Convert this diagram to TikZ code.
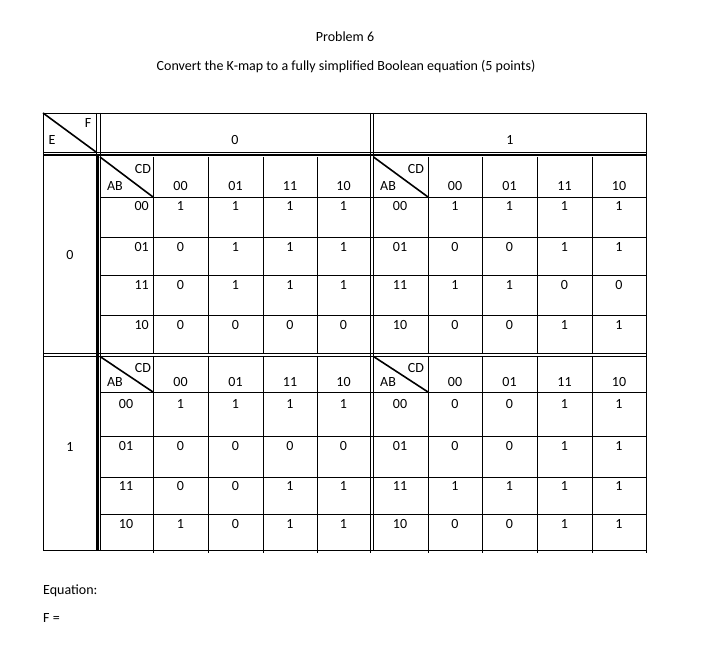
\documentclass[tikz,border=0pt]{standalone}
\usepackage{fontspec}
\setmainfont{Carlito}
\begin{document}
\begin{tikzpicture}[x=1pt,y=-1pt,font=\fontsize{14}{16}\selectfont,
  thin line/.style={line width=0.8pt},
  thick line/.style={line width=2pt},
  lbl/.style={inner sep=0pt}]
\useasboundingbox (0,0) rectangle (720,668);
\node[lbl] (title) at (345,37) {Problem 6};
\node[lbl] (sub) at (346,67) {Convert the K-map to a fully simplified Boolean equation (5 points)};
\node[lbl,anchor=west] (eq) at (43,591) {Equation:};
\node[lbl,anchor=west] (feq) at (43,618) {F =};
% outer frame
\draw[thin line] (43,113) rectangle (646,550);
\draw[thin line] (96,113) -- (96,550);
\draw[thin line] (100,113) -- (100,550);
\draw[thick line] (97.5,154) -- (97.5,550);
\draw[thin line] (370,113) -- (370,550);
\draw[thin line] (373.5,113) -- (373.5,550);
\draw[thin line] (43,152) -- (646,152);
\draw[thick line] (43,155) -- (646,155);
\draw[thin line] (43,353) -- (646,353);
\draw[thin line] (43,356.5) -- (646,356.5);
\draw[line width=1.6pt] (43,113) -- (96,152);
\node[lbl] (F) at (88,123) {F};
\node[lbl] (E) at (52,140) {E};
\node[lbl] (f0) at (235,140) {0};
\node[lbl] (f1) at (510,140) {1};
\node[lbl] (e0) at (70,255) {0};
\node[lbl] (e1) at (70,447) {1};
% submaps
\foreach \ox/\cols in {100/{153,208,263,317,370}, 373.5/{428,482,537,592,646}}{
  \foreach \oy/\rows in {157/{197,237,275,315,353}, 356.5/{392,436,477,514,550}}{
    \foreach \c in \cols {\draw[thin line] (\c,\oy) -- (\c,{\oy+196});}
    \foreach \r in \rows {\draw[thin line] (\ox,\r) -- (646,\r);}
  }
}
\draw[line width=1.6pt] (100,157) -- (153,197);
\draw[line width=1.6pt] (373.5,157) -- (428,197);
\draw[line width=1.6pt] (100,356.5) -- (153,392);
\draw[line width=1.6pt] (373.5,356.5) -- (428,392);
% headers
\foreach \lx/\cx in {115/143, 388/416}{
  \foreach \oy/\hy in {157/186, 356.5/382}{
    \node[lbl] at (\cx,{\oy+12}) {CD};
    \node[lbl] at (\lx,\hy) {AB};
  }
}
\foreach \oy/\hy in {157/186, 356.5/382}{
  \foreach \x/\t in {180.5/00,235.5/01,290/11,343.5/10,455/00,509.5/01,564.5/11,619/10}
    \node[lbl] at (\x,\hy) {\t};
}
% row labels
\foreach \y/\t in {206/00,247/01,285/11,325/10}{
  \node[lbl,anchor=east] at (149,\y) {\t};
  \node[lbl] at (400,\y) {\t};
}
\foreach \y/\t in {404/00,446/01,486/11,524/10}{
  \node[lbl] at (126,\y) {\t};
  \node[lbl] at (400,\y) {\t};
}
% values
\foreach \y/\a/\b/\c/\d/\e/\f/\g/\h in {
  206/1/1/1/1/1/1/1/1,
  247/0/1/1/1/0/0/1/1,
  285/0/1/1/1/1/1/0/0,
  325/0/0/0/0/0/0/1/1,
  404/1/1/1/1/0/0/1/1,
  446/0/0/0/0/0/0/1/1,
  486/0/0/1/1/1/1/1/1,
  524/1/0/1/1/0/0/1/1}{
  \node[lbl] at (180.5,\y) {\a};
  \node[lbl] at (235.5,\y) {\b};
  \node[lbl] at (290,\y) {\c};
  \node[lbl] at (343.5,\y) {\d};
  \node[lbl] at (455,\y) {\e};
  \node[lbl] at (509.5,\y) {\f};
  \node[lbl] at (564.5,\y) {\g};
  \node[lbl] at (619,\y) {\h};
}
\end{tikzpicture}
\end{document}
